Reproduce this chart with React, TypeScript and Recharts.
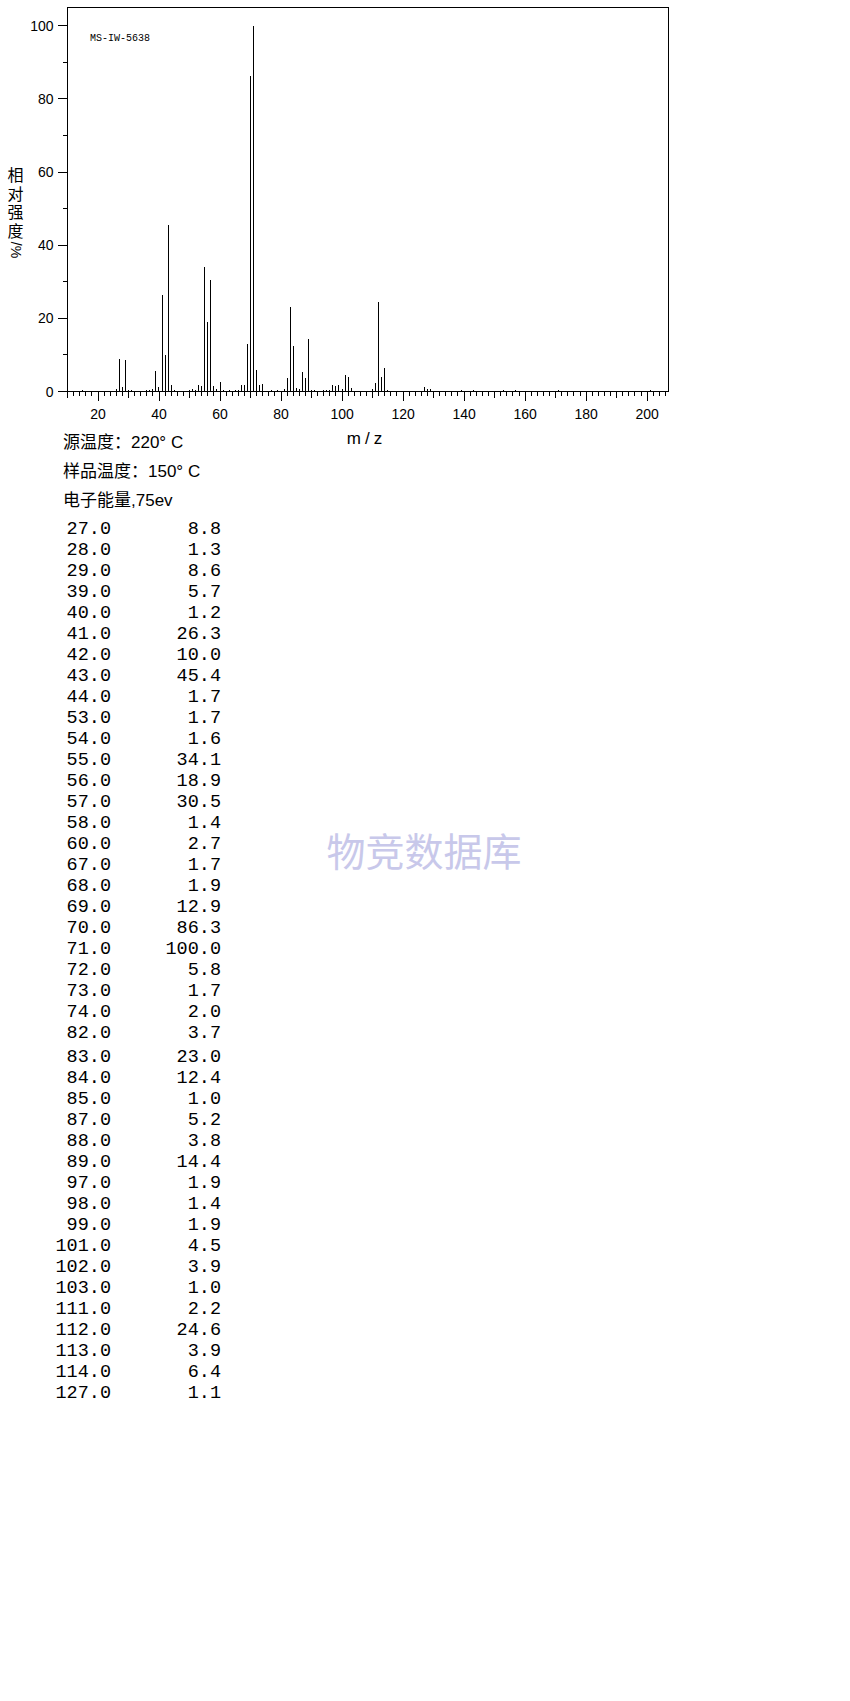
// EI mass spectrum (MS-IW-5638): stick spectrum plus the peak table printed below it.
import { BarChart, Bar, XAxis, YAxis, ReferenceArea } from 'recharts';

// Peaks listed in the table (m/z, relative intensity %).
const tableMz = [
  27, 28, 29, 39, 40, 41, 42, 43, 44, 53, 54, 55, 56, 57, 58, 60, 67, 68, 69, 70, 71,
  72, 73, 74, 82, 83, 84, 85, 87, 88, 89, 97, 98, 99, 101, 102, 103, 111, 112, 113, 114, 127,
];
const tableIntensity = [
  8.8, 1.3, 8.6, 5.7, 1.2, 26.3, 10.0, 45.4, 1.7, 1.7, 1.6, 34.1, 18.9, 30.5, 1.4, 2.7, 1.7, 1.9, 12.9, 86.3, 100.0,
  5.8, 1.7, 2.0, 3.7, 23.0, 12.4, 1.0, 5.2, 3.8, 14.4, 1.9, 1.4, 1.9, 4.5, 3.9, 1.0, 2.2, 24.6, 3.9, 6.4, 1.1,
];

// Small peaks (< 1 %) that show in the plot but not in the table.
const minorMz = [
  15, 26, 30, 31, 36, 37, 38, 45, 50, 51, 52, 59, 61, 63, 65, 66, 77, 79, 81, 86,
  90, 91, 94, 95, 96, 100, 110, 115, 128, 129, 139, 143, 153, 157, 171, 201,
];
const minorIntensity = [
  0.4, 0.6, 0.3, 0.5, 0.3, 0.4, 0.6, 0.5, 0.3, 0.6, 0.4, 0.6, 0.3, 0.3, 0.3, 0.4, 0.3, 0.4, 0.6, 0.8,
  0.4, 0.3, 0.3, 0.3, 0.5, 0.6, 0.6, 0.4, 0.6, 0.6, 0.5, 0.3, 0.3, 0.5, 0.3, 0.3,
];

const xTicks = [
  10, 12, 14, 16, 18, 20, 22, 24, 26, 28, 30, 32, 34, 36, 38, 40, 42, 44, 46, 48,
  50, 52, 54, 56, 58, 60, 62, 64, 66, 68, 70, 72, 74, 76, 78, 80, 82, 84, 86, 88,
  90, 92, 94, 96, 98, 100, 102, 104, 106, 108, 110, 112, 114, 116, 118, 120, 122, 124, 126, 128,
  130, 132, 134, 136, 138, 140, 142, 144, 146, 148, 150, 152, 154, 156, 158, 160, 162, 164, 166, 168,
  170, 172, 174, 176, 178, 180, 182, 184, 186, 188, 190, 192, 194, 196, 198, 200, 202, 204, 206,
];
const yTicks = [0, 10, 20, 30, 40, 50, 60, 70, 80, 90, 100];

const infoLines = ['源温度：220° C', '样品温度：150° C', '电子能量,75ev'];

const spectrum = [
  ...tableMz.map((mz, i) => ({ mz, intensity: tableIntensity[i] })),
  ...minorMz.map((mz, i) => ({ mz, intensity: minorIntensity[i] })),
].sort((a, b) => a.mz - b.mz);

const SANS = '"Liberation Sans", Arial, "Noto Sans CJK SC", sans-serif';
const MONO = '"Liberation Mono", "Courier New", monospace';

function XTick(props: any) {
  const { x, y, payload } = props;
  const v = payload.value as number;
  const len = v % 20 === 0 ? 9 : v % 10 === 0 ? 6 : 4;
  return (
    <g>
      <line x1={x} x2={x} y1={y} y2={y + len} stroke="#000" />
      {v % 20 === 0 && (
        <text x={x} y={y + 22} textAnchor="middle" dominantBaseline="central" fill="#000" fontSize={14} fontFamily={SANS}>
          {v}
        </text>
      )}
    </g>
  );
}

function YTick(props: any) {
  const { x, y, payload } = props;
  const v = payload.value as number;
  const major = v % 20 === 0;
  return (
    <g>
      <line x1={x - (major ? 10 : 5)} x2={x} y1={y} y2={y} stroke="#000" />
      {major && (
        <text x={x - 14} y={y} textAnchor="end" dominantBaseline="central" fill="#000" fontSize={14} fontFamily={SANS}>
          {v}
        </text>
      )}
    </g>
  );
}

export default function App() {
  return (
    <div className="spec" style={{ position: 'absolute', left: 0, top: 0, width: 850, height: 1701, background: '#fff' }}>
      <style>{'.spec svg { shape-rendering: crispEdges; }'}</style>

      <div style={{ position: 'absolute', left: 0, top: 0 }}>
        <BarChart
          width={700}
          height={440}
          data={spectrum}
          margin={{ top: 7.5, right: 31.5, bottom: 0, left: 0.5 }}
        >
          <XAxis
            type="number"
            dataKey="mz"
            domain={[10, 207]}
            allowDataOverflow
            ticks={xTicks}
            interval={0}
            tick={(p: any) => <XTick {...p} />}
            tickLine={false}
            tickSize={0}
            tickMargin={0}
            height={48.5}
            axisLine={{ stroke: '#000' }}
          />
          <YAxis
            type="number"
            domain={[0, 105]}
            allowDataOverflow
            ticks={yTicks}
            interval={0}
            tick={(p: any) => <YTick {...p} />}
            tickLine={false}
            tickSize={0}
            tickMargin={0}
            width={67}
            axisLine={{ stroke: '#000' }}
          />
          {/* frame: top and right edges of the plot box */}
          <ReferenceArea x1={10} x2={207} y1={0} y2={105} fill="none" stroke="#000" ifOverflow="visible" />
          <Bar dataKey="intensity" fill="#000" barSize={1} isAnimationActive={false} />
        </BarChart>
      </div>

      <div style={{ position: 'absolute', left: 90, top: 34, fontFamily: MONO, fontSize: 10, lineHeight: '10px', color: '#000', whiteSpace: 'nowrap' }}>
        MS-IW-5638
      </div>

      <div
        style={{
          position: 'absolute',
          left: 6.5,
          top: 167,
          width: 18,
          writingMode: 'vertical-rl',
          fontFamily: '"Noto Sans CJK SC", sans-serif',
          fontSize: 16,
          lineHeight: '18px',
          letterSpacing: 2.7,
          color: '#000',
          whiteSpace: 'nowrap',
        }}
      >
        相对强度<span style={{ fontFamily: SANS, fontSize: 14, letterSpacing: 0 }}>/%</span>
      </div>

      <div style={{ position: 'absolute', left: 316.5, top: 429, width: 100, textAlign: 'center', fontFamily: SANS, fontSize: 17, lineHeight: '20px', letterSpacing: 4, color: '#000' }}>
        m/z
      </div>

      <div style={{ position: 'absolute', left: 63, top: 428, fontFamily: SANS, fontSize: 17, lineHeight: '29px', color: '#000', whiteSpace: 'nowrap' }}>
        {infoLines.map((t) => (
          <div key={t}>{t}</div>
        ))}
      </div>

      <div style={{ position: 'absolute', left: 0, top: 519.4, fontFamily: MONO, fontSize: 18.5, lineHeight: '21px', color: '#000', whiteSpace: 'pre' }}>
        {tableMz.map((mz, i) => (
          <div key={mz} style={{ display: 'flex', marginTop: mz === 83 ? 3 : 0 }}>
            <span style={{ width: 111, textAlign: 'right' }}>{mz.toFixed(1)}</span>
            <span style={{ width: 110, textAlign: 'right' }}>{tableIntensity[i].toFixed(1)}</span>
          </div>
        ))}
      </div>

      <div
        style={{
          position: 'absolute',
          left: 326.5,
          top: 829.5,
          width: 195,
          fontFamily: '"Noto Sans CJK SC", sans-serif',
          fontSize: 39,
          lineHeight: '39px',
          color: '#c8c8ea',
          whiteSpace: 'nowrap',
        }}
      >
        物竞数据库
      </div>
    </div>
  );
}
